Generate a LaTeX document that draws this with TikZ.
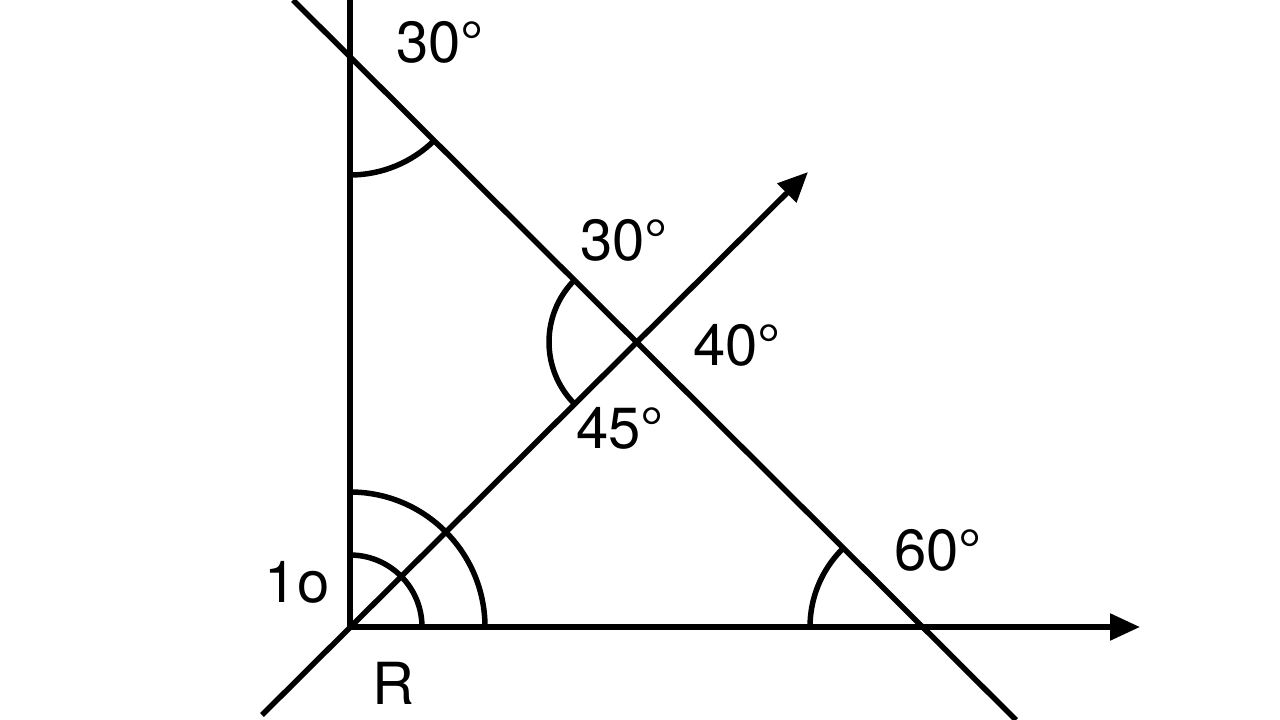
\documentclass[tikz,border=0pt]{standalone}
\usepackage{fontspec}
\setmainfont{TeX Gyre Heros}
\usetikzlibrary{arrows.meta}
\begin{document}
\begin{tikzpicture}[x=1pt,y=-1pt,line width=5.5pt,
  lbl/.style={font=\fontsize{58}{60}\selectfont,inner sep=0pt},
  arr/.style={-{Triangle[length=30pt,width=26pt]}}]
\useasboundingbox (0,0) rectangle (1280,720);
\coordinate (R) at (350,627);
\coordinate (T) at (350,0);
\coordinate (H) at (1140,627);
\coordinate (D1) at (262,715);
\coordinate (D2) at (808,172);
\coordinate (L1) at (293,0);
\coordinate (L2) at (1016,720);
\coordinate (A) at (350,55);
\coordinate (X) at (637,342);
\coordinate (B) at (920,627);
\draw (R) -- (T);
\draw[arr] (R) -- (H);
\draw[arr] (D1) -- (D2);
\draw (L1) -- (L2);
\draw (A) ++(0,120) arc[start angle=90,end angle=45,radius=120];
\draw (X) ++(225:88) arc[start angle=225,end angle=135,radius=88];
\draw (R) ++(72,0) arc[start angle=0,end angle=-90,radius=72];
\draw (R) ++(135,0) arc[start angle=0,end angle=-90,radius=135];
\draw (B) ++(-110,0) arc[start angle=180,end angle=225,radius=110];
\node[lbl] (a1) at (440,42) {30°};
\node[lbl] (a2) at (624,240) {30°};
\node[lbl] (a3) at (737,345) {40°};
\node[lbl] (a4) at (620,428) {45°};
\node[lbl] (a5) at (938,550) {60°};
\node[lbl] (a6) at (297,582) {1o};
\node[lbl] (r) at (393,683) {R};
\end{tikzpicture}
\end{document}
